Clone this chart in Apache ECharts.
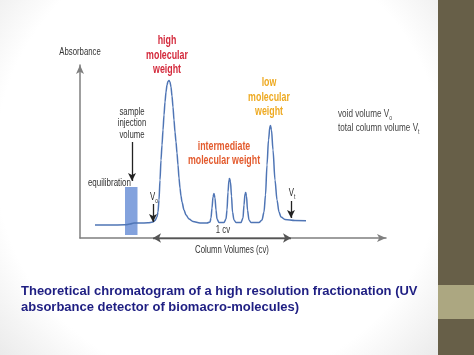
<!DOCTYPE html>
<html>
<head>
<meta charset="utf-8">
<script src="https://cdn.jsdelivr.net/npm/echarts@6/dist/echarts.min.js"></script>
<style>
  html, body { margin: 0; padding: 0; background: #ffffff; }
  #chart { width: 474px; height: 355px; }
</style>
</head>
<body>
<div id="chart"></div>
<script>
// elution volume (arbitrary units) and UV absorbance
var volume = [1.5, 3.0, 4.5, 5.0, 5.4, 6.0, 6.8, 7.3, 7.5, 7.7, 7.8, 7.9, 8.0, 8.1, 8.2, 8.3, 8.4, 8.5, 8.6, 8.7, 8.8, 8.9,
  9.0, 9.1, 9.2, 9.3, 9.4, 9.5, 9.6, 9.7, 9.8, 9.9, 10.0, 10.1, 10.2, 10.4, 10.6, 10.9, 11.3, 12.0, 12.7,
  13.0, 13.1, 13.2, 13.3, 13.4, 13.5, 13.6, 13.7, 13.9, 14.4, 14.6, 14.7, 14.8, 14.9, 14.95, 15.05, 15.15, 15.25, 15.4, 15.6,
  16.1, 16.3, 16.4, 16.5, 16.57, 16.65, 16.75, 16.9, 17.1, 17.9, 18.2, 18.4, 18.55, 18.7, 18.85, 19.0, 19.05, 19.15, 19.3,
  19.5, 19.7, 19.9, 20.1, 20.5, 21.5, 22.6];
var absorbance = [13, 13, 13.2, 14, 15, 15, 15.2, 16, 17.5, 21, 26, 38, 58, 78, 93, 108, 123, 136, 146, 153, 156.5, 157.5,
  156, 151, 142, 131, 118, 106, 96, 85, 73, 60, 50, 42, 36, 28, 23, 19, 16.5, 15, 15,
  16, 20, 30, 41, 44.5, 40, 28, 19, 15.5, 15.5, 19, 28, 46, 58, 59.5, 56, 42, 26, 18, 15.5,
  15.5, 20, 33, 44, 45.5, 42, 28, 18, 15.5, 15.5, 18, 26, 43, 73, 98, 112, 112.5, 108, 88,
  58, 38, 26, 21, 18.5, 17.5, 17.3];

var voidVolume = 7.3;      // Vo
var totalVolume = 21.1;    // Vt
var injection = 5.2;
var equilibration = [4.5, 5.75];

var chart = echarts.init(document.getElementById('chart'));

var sans = '"Liberation Sans", Arial, sans-serif';
var points = volume.map(function (v, i) { return [v, absorbance[i]]; });

// condensed look: no narrow font installed, so squeeze the text horizontally
function label(x, y, text, size, color, align, bold, lh, sx) {
  return {
    type: 'text', x: x, y: y, scaleX: sx || 0.74,
    style: { text: text, font: (bold ? 'bold ' : '') + size + 'px ' + sans, fill: color,
      align: align, verticalAlign: 'middle', lineHeight: lh || size * 1.2 }
  };
}
function subLabel(x, y, main, sub, size, color, align) {
  return {
    type: 'text', x: x, y: y, scaleX: 0.74,
    style: { text: '{v|' + main + '}{s|' + sub + '}', align: align, verticalAlign: 'middle',
      rich: { v: { font: size + 'px ' + sans, fill: color, lineHeight: size + 4 },
              s: { font: (size * 0.62) + 'px ' + sans, fill: color, verticalAlign: 'bottom' } } }
  };
}

function arrowLine(x, y1, y2, color) {
  return [
    { coord: [x, y1], symbol: 'none', lineStyle: { color: color, width: 1.3, type: 'solid' } },
    { coord: [x, y2], symbol: 'arrow', symbolSize: [6, 8] }
  ];
}

var option = {
  backgroundColor: '#ffffff',
  animation: false,
  grid: { left: 80, top: 65, width: 306, height: 173 },
  xAxis: {
    type: 'value', min: 0, max: 30.6,
    axisLine: { show: true, lineStyle: { color: '#7f7f7f', width: 1.5 }, symbol: ['none', 'arrow'], symbolSize: [6, 9] },
    axisTick: { show: false }, axisLabel: { show: false }, splitLine: { show: false }
  },
  yAxis: {
    type: 'value', min: 0, max: 173,
    axisLine: { show: true, lineStyle: { color: '#7f7f7f', width: 1.5 }, symbol: ['none', 'arrow'], symbolSize: [6, 9] },
    axisTick: { show: false }, axisLabel: { show: false }, splitLine: { show: false }
  },
  graphic: [
    { type: 'rect', z: -10, shape: { x: 0, y: 0, width: 438, height: 355 },
      style: { fill: new echarts.graphic.RadialGradient(0.5, 0.45, 0.85, [
        { offset: 0, color: '#ffffff' }, { offset: 0.74, color: '#ffffff' }, { offset: 1, color: '#e8e8e8' }]) } },
    { type: 'rect', shape: { x: 438, y: 0, width: 36, height: 355 }, style: { fill: '#675f48' } },
    { type: 'rect', shape: { x: 438, y: 285, width: 36, height: 34 }, style: { fill: '#aca781' } },

    label(80, 52, 'Absorbance', 10.5, '#333', 'center'),
    label(167, 55, 'high\nmolecular\nweight', 13, '#d42a3c', 'center', true, 14.5, 0.68),
    label(269, 97, 'low\nmolecular\nweight', 13, '#eeaa22', 'center', true, 14.5, 0.68),
    label(224, 153, 'intermediate\nmolecular weight', 13, '#e35b2e', 'center', true, 14, 0.68),
    label(132, 123.5, 'sample\ninjection\nvolume', 10.5, '#333', 'center', false, 11.5),
    label(131, 183, 'equilibration', 10.8, '#333', 'right'),
    subLabel(338, 114, 'void volume V', 'o', 11, '#444', 'left'),
    subLabel(338, 128, 'total column volume V', 't', 11, '#444', 'left'),
    subLabel(154, 197, 'V', 'o', 10.5, '#222', 'center'),
    subLabel(292, 193, 'V', 't', 10.5, '#222', 'center'),
    label(223, 230, '1 cv', 10.5, '#333', 'center'),
    label(232, 250, 'Column Volumes (cv)', 10.5, '#333', 'center'),

    { type: 'text', x: 21, y: 291, style: { text: 'Theoretical chromatogram of a high resolution fractionation (UV', font: 'bold 13px ' + sans, fill: '#1e1e82', align: 'left', verticalAlign: 'middle' } },
    { type: 'text', x: 21, y: 307, style: { text: 'absorbance detector of biomacro-molecules)', font: 'bold 13px ' + sans, fill: '#1e1e82', align: 'left', verticalAlign: 'middle' } }
  ],
  series: [{
    type: 'line',
    data: points,
    showSymbol: false,
    smooth: 0.3,
    smoothMonotone: 'x',
    clip: false,
    lineStyle: { color: '#4f75b5', width: 1.5 },
    markArea: {
      silent: true,
      itemStyle: { color: 'rgba(96,136,212,0.78)' },
      data: [[{ coord: [equilibration[0], 3] }, { coord: [equilibration[1], 51] }]]
    },
    markLine: {
      silent: true,
      animation: false,
      label: { show: false },
      emphasis: { disabled: true },
      data: [
        arrowLine(voidVolume, 34, 16, '#222'),
        arrowLine(totalVolume, 37, 20, '#222'),
        arrowLine(injection, 96, 57, '#222'),
        [{ coord: [voidVolume, 6], symbol: 'none', lineStyle: { color: '#555', width: 1, type: 'solid' } }, { coord: [voidVolume, -7], symbol: 'none' }],
        [{ coord: [totalVolume, 6], symbol: 'none', lineStyle: { color: '#555', width: 1, type: 'solid' } }, { coord: [totalVolume, -7], symbol: 'none' }],
        [{ coord: [voidVolume, 0], symbol: 'arrow', symbolSize: [7, 8], lineStyle: { color: '#555', width: 1.3, type: 'solid' } },
         { coord: [totalVolume, 0], symbol: 'arrow', symbolSize: [7, 8] }]
      ]
    }
  }]
};

chart.setOption(option);
</script>
</body>
</html>
